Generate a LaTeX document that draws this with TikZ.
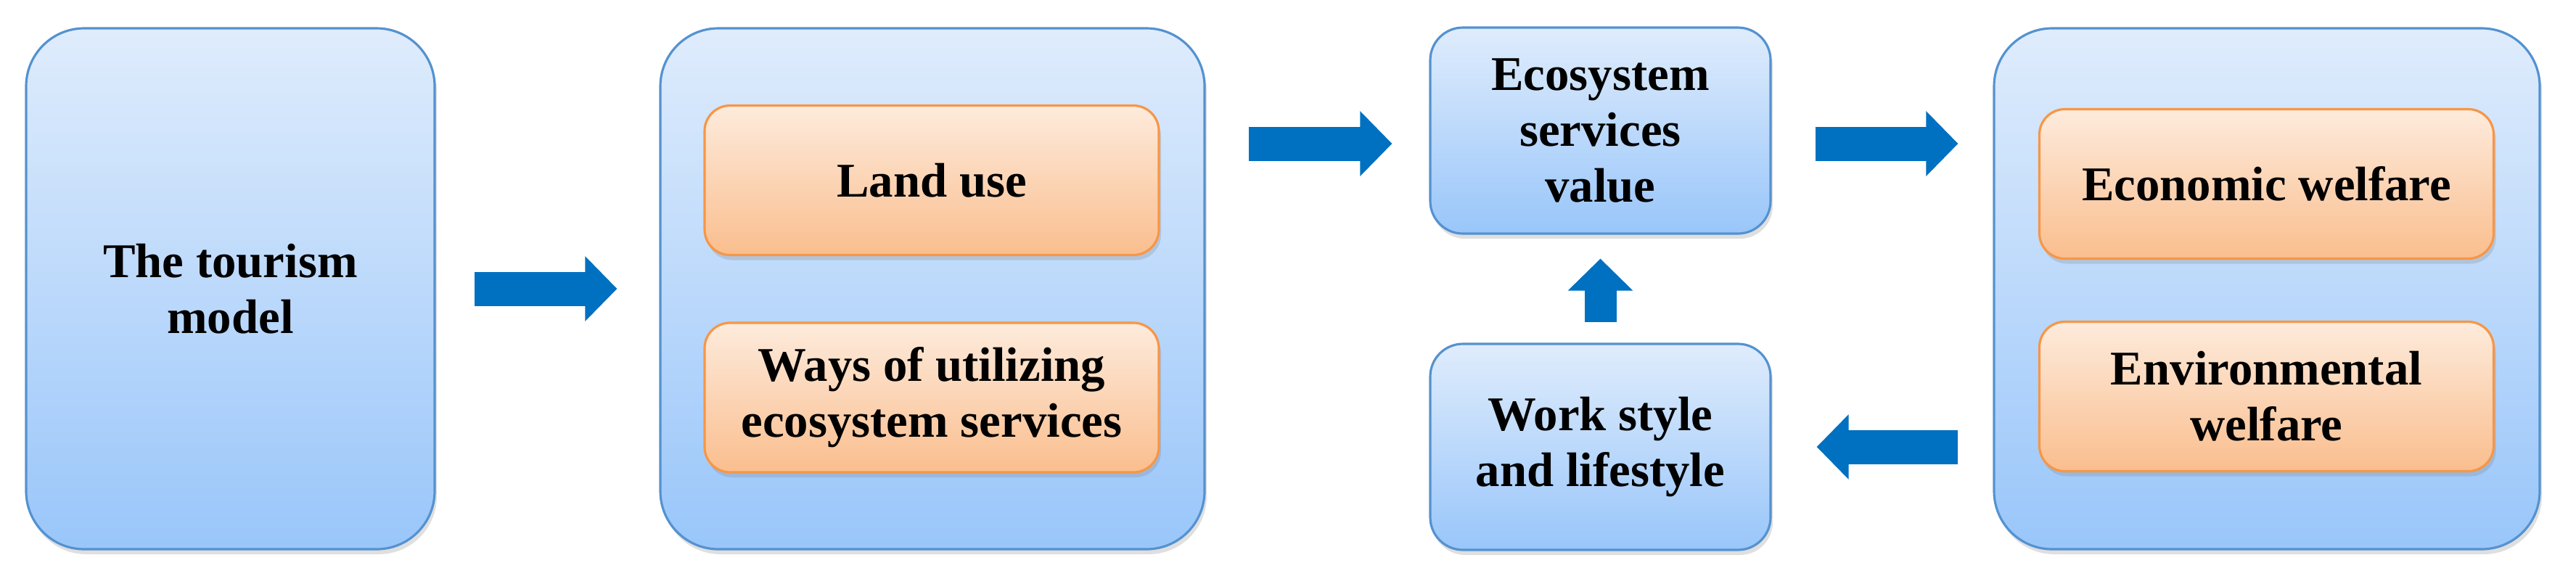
\documentclass[tikz,border=0pt]{standalone}
\usepackage{fontspec}
\setmainfont{Liberation Serif}
\usetikzlibrary{arrows.meta,shadows,calc}

\definecolor{boxtop}{RGB}{223,236,252}
\definecolor{boxbot}{RGB}{153,198,250}
\definecolor{boxline}{RGB}{84,146,208}
\definecolor{ortop}{RGB}{253,235,220}
\definecolor{orbot}{RGB}{250,190,142}
\definecolor{orline}{RGB}{247,150,70}
\definecolor{arrowblue}{RGB}{0,112,192}

\begin{document}
\begin{tikzpicture}[
            txt/.style={align=center, inner sep=0pt, font=\bfseries\fontsize{19}{21.9}\selectfont},
            bigbox/.style={txt, draw=boxline, line width=0.9pt, rounded corners=0.8cm,
                top color=boxtop, bottom color=boxbot, minimum height=7.18cm,
                drop shadow={shadow xshift=0.3mm, shadow yshift=-0.7mm, opacity=0.25}},
            midbox/.style={txt, draw=boxline, line width=0.9pt, rounded corners=0.45cm,
                top color=boxtop, bottom color=boxbot, minimum width=4.69cm, minimum height=2.84cm,
                drop shadow={shadow xshift=0.3mm, shadow yshift=-0.7mm, opacity=0.25}},
            orbox/.style={txt, draw=orline, line width=0.9pt, rounded corners=0.35cm,
                top color=ortop, bottom color=orbot, minimum width=6.26cm, minimum height=2.06cm,
                drop shadow={shadow xshift=0.3mm, shadow yshift=-0.7mm, opacity=0.25}},
            fatarrow/.style={draw=arrowblue, line width=0.47cm, -{Triangle[width=0.87cm,length=0.44cm]}}
        ]
            \useasboundingbox (0,0) rectangle (35.5,8.04);
            % boxes
            \node[bigbox, minimum width=5.63cm] (tour) at (3.175,4.06) {The tourism\\model};
            \node[bigbox, minimum width=7.50cm] (use) at (12.85,4.06) {};
            \node[orbox] (land) at (12.84,5.555) {Land use};
            \node[orbox] (ways) at (12.84,2.56) {Ways of utilizing\\ecosystem services};
            \node[midbox] (esv) at (22.055,6.24) {Ecosystem\\services\\value};
            \node[midbox] (work) at (22.055,1.88) {Work style\\and lifestyle};
            \node[bigbox, minimum width=7.52cm] (welfare) at (31.24,4.06) {};
            \node[orbox] (econ) at (31.235,5.505) {Economic welfare};
            \node[orbox] (env) at (31.235,2.575) {Environmental\\welfare};
            % arrows
            \draw[fatarrow, shorten <=0.53cm, shorten >=0.58cm] (tour) -- (use);
            \draw[fatarrow, shorten <=0.59cm, shorten >=0.51cm] ($(use.east |- esv.west)+(0,-0.18)$) -- ($(esv.west)+(0,-0.18)$);
            \draw[fatarrow, shorten <=0.60cm, shorten >=0.48cm] ($(esv.east)+(0,-0.18)$) -- ($(welfare.west |- esv.east)+(0,-0.18)$);
            \draw[fatarrow, shorten <=0.48cm, shorten >=0.62cm] (welfare.west |- work.east) -- (work.east);
            \draw[fatarrow, line width=0.44cm, shorten <=0.28cm, shorten >=0.33cm] (work) -- (esv);
        \end{tikzpicture}
\end{document}
